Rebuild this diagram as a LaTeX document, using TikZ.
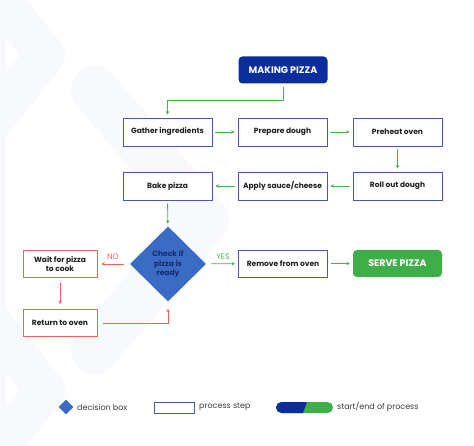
\documentclass[tikz,border=0pt]{standalone}
\usepackage{fontspec}
\setmainfont{Poppins}
\usetikzlibrary{shapes.geometric,arrows.meta}
\definecolor{navy}{HTML}{0B2E9C}
\definecolor{boxblue}{HTML}{4C5AA6}
\definecolor{arrgreen}{HTML}{4CAF50}
\definecolor{servegreen}{HTML}{3FAE49}
\definecolor{decblue}{HTML}{3A6CC6}
\definecolor{dectext}{HTML}{142C6B}
\definecolor{nored}{HTML}{E86461}
\definecolor{wmgray}{HTML}{F8F9FC}
\definecolor{legtext}{HTML}{3A3A3A}
\begin{document}
\begin{tikzpicture}[x=1pt,y=-1pt]
    \tikzstyle{every node}+=[inner sep=0pt, font=\fontsize{7.5}{9.5}\selectfont\bfseries, text=black!88]
    \tikzstyle{procbox}=[draw=boxblue, line width=0.9pt, fill=white, minimum width=89pt, minimum height=28pt]
    \tikzstyle{redbox}=[draw=nored, line width=0.8pt, fill=white, minimum width=74pt, minimum height=27pt, align=center]
    \tikzstyle{endbox}=[rounded corners=4pt, minimum width=89pt, minimum height=27pt, text=white, font=\fontsize{9.5}{10}\selectfont\bfseries]
    \tikzstyle{decbox}=[diamond, fill=decblue, minimum width=76pt, minimum height=75pt, align=center, text=dectext]
    \tikzstyle{flow}=[arrgreen, line width=0.8pt, -{Stealth[length=3.5pt,width=3.5pt]}, shorten <=3pt, shorten >=3pt]
    \tikzstyle{back}=[flow, nored]
    \tikzstyle{legend}=[anchor=west, font=\fontsize{8}{9}\selectfont, text=legtext]
    \useasboundingbox (0,0) rectangle (474,446);
    % faint logo in the background
    \draw [wmgray, line width=8pt] (2,0) -- (2,446);
    \draw [wmgray, line width=40pt, line join=round, line cap=round] (-10,-15) -- (45,55) -- (-10,125);
    \draw [wmgray, line width=48pt, line join=round, line cap=round] (95,90) -- (205,220) -- (95,350);
    \draw [wmgray, line width=40pt, line join=round, line cap=round] (-10,320) -- (45,390) -- (-10,460);
    % start
    \node [endbox, fill=navy] (start) at (283,70) {MAKING PIZZA};
    % process steps
    \node [procbox] (gather) at (167.5,132) {Gather ingredients};
    \node [procbox] (dough) at (282.5,132) {Prepare dough};
    \node [procbox] (preheat) at (397.5,132) {Preheat oven};
    \node [procbox] (rollout) at (397.5,186) {Roll out dough};
    \node [procbox] (sauce) at (282.5,186) {Apply sauce/cheese};
    \node [procbox] (bake) at (167.5,186) {Bake pizza};
    \node [decbox] (check) at (168,264) {Check if\\pizza is\\ready};
    \node [redbox] (wait) at (60,264) {Wait for pizza\\to cook};
    \node [redbox] (return) at (60,323) {Return to oven};
    \node [procbox, minimum height=27pt] (remove) at (283,263.5) {Remove from oven};
    \node [endbox, fill=servegreen] (serve) at (397.5,263.5) {SERVE PIZZA};
    % connectors
    \draw [flow] (start.south) -- ++(0,16.5) -| (gather.north);
    \draw [flow] (gather) -- (dough);
    \draw [flow] (dough) -- (preheat);
    \draw [flow] (preheat) -- (rollout);
    \draw [flow] (rollout) -- (sauce);
    \draw [flow] (sauce) -- (bake);
    \draw [flow] (bake) -- (check);
    \draw [back, shorten <=6pt, shorten >=4pt] (check) -- (wait);
    \draw [back, shorten <=5pt, shorten >=5pt] (wait) -- (return);
    \draw [back, shorten <=6pt, shorten >=7pt] (return.east) -| (check.south);
    \draw [flow, shorten <=5pt] (check) -- (remove);
    \draw [flow] (remove) -- (serve);
    \node [font=\fontsize{8}{9}\selectfont, text=nored] (nolabel) at (113,257) {NO};
    \node [font=\fontsize{8}{9}\selectfont, text=arrgreen] (yeslabel) at (223,257) {YES};
    % legend
    \node [diamond, fill=decblue, minimum width=15pt, minimum height=15pt] (legdec) at (66,407) {};
    \node [legend] (legdectext) at (77,407) {decision box};
    \node [draw=boxblue, line width=0.8pt, fill=white, minimum width=40pt, minimum height=11pt] (legproc) at (174,407.5) {};
    \node [legend] (legproctext) at (199,407) {process step};
    \fill [servegreen, rounded corners=5.5pt] (276,402) rectangle (333,413);
    \begin{scope}
        \clip [rounded corners=5.5pt] (276,402) rectangle (333,413);
        \fill [navy] (270,402) -- (307,402) -- (303,413) -- (270,413) -- cycle;
    \end{scope}
    \node [legend] (legendtext) at (337,407) {start/end of process};
\end{tikzpicture}
\end{document}
